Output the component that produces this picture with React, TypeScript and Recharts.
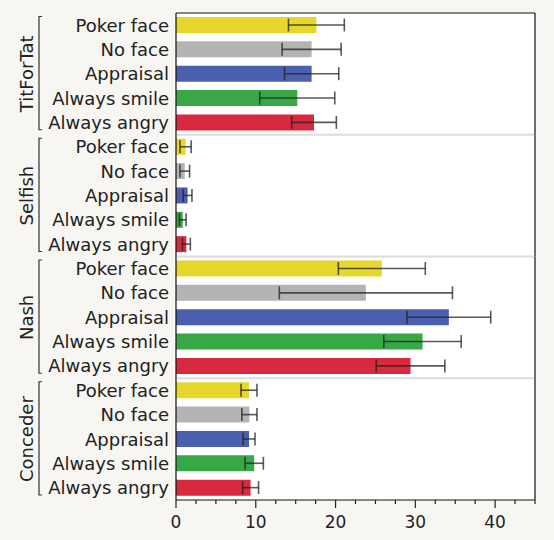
import React from 'react';
import { BarChart, Bar, XAxis, YAxis, ErrorBar, Cell, ReferenceArea, CartesianGrid } from 'recharts';

const FONT = '"DejaVu Sans", Verdana, sans-serif';

const groups = ['TitForTat', 'Selfish', 'Nash', 'Conceder'];
const conditions = ['Poker face', 'No face', 'Appraisal', 'Always smile', 'Always angry'];
const conditionColors = ['#e7d62b', '#b4b4b4', '#4a5fae', '#37a845', '#d9293f'];

// mean values and error (half-width) per group, in condition order
const titForTatMeans = [17.6, 17.0, 17.0, 15.2, 17.3];
const titForTatErrs = [3.5, 3.7, 3.4, 4.7, 2.8];
const selfishMeans = [1.2, 1.1, 1.45, 0.85, 1.3];
const selfishErrs = [0.7, 0.6, 0.55, 0.42, 0.5];
const nashMeans = [25.8, 23.8, 34.2, 30.9, 29.4];
const nashErrs = [5.45, 10.85, 5.25, 4.85, 4.3];
const concederMeans = [9.15, 9.2, 9.15, 9.8, 9.35];
const concederErrs = [1.0, 0.95, 0.75, 1.15, 1.0];

const xTicks = [0, 2.5, 5, 7.5, 10, 12.5, 15, 17.5, 20, 22.5, 25, 27.5, 30, 32.5, 35, 37.5, 40, 42.5, 45];

const means = [titForTatMeans, selfishMeans, nashMeans, concederMeans];
const errs = [titForTatErrs, selfishErrs, nashErrs, concederErrs];

const rows = groups.flatMap((g, gi) =>
  conditions.map((c, ci) => ({
    key: `${g}|${c}`,
    value: means[gi][ci],
    err: errs[gi][ci],
    color: conditionColors[ci],
  }))
);

const XTick = ({ x, y, payload }: any) => {
  const major = payload.value % 10 === 0;
  return (
    <g>
      <line x1={x} x2={x} y1={y} y2={y + (major ? 8 : 4)} stroke="#222" strokeWidth={1.2} />
      {major && (
        <text x={x} y={y + 22} textAnchor="middle" dominantBaseline="central" fontFamily={FONT} fontSize={17} fill="#222">
          {payload.value}
        </text>
      )}
    </g>
  );
};

const makePanel = (group: string, index: number) => (p: any) => {
  const { x, y, width, height } = p;
  const bx = x - 137;
  const lx = x - 150;
  return (
    <g>
      {index === 0 && <line x1={x} x2={x + width} y1={y} y2={y} stroke="#111" strokeWidth={1.2} />}
      {index < groups.length - 1 && (
        <line x1={x + 1} x2={x + width - 1} y1={y + height} y2={y + height} stroke="#dcdcdc" strokeWidth={2} />
      )}
      <line x1={x + width} x2={x + width} y1={y} y2={y + height} stroke="#111" strokeWidth={1.2} />
      <path
        d={`M${bx + 3},${y + 3.5} H${bx} V${y + height - 5} H${bx + 3}`}
        fill="none"
        stroke="#333"
        strokeWidth={1.2}
      />
      <text
        transform={`translate(${lx},${y + height / 2}) rotate(-90)`}
        textAnchor="middle"
        dominantBaseline="central"
        fontFamily={FONT}
        fontSize={18}
        fill="#222"
      >
        {group}
      </text>
    </g>
  );
};

export default function App() {
  React.useEffect(() => {
    document.body.style.background = '#f7f6f2';
  }, []);

  return (
    <div style={{ width: 546, height: 532, background: '#f7f6f2' }}>
      <BarChart
        width={546}
        height={532}
        data={rows}
        layout="vertical"
        margin={{ top: 5, right: 19, bottom: 0, left: 0 }}
      >
        <CartesianGrid fill="#ffffff" horizontal={false} vertical={false} stroke="none" />
        <XAxis
          type="number"
          domain={[0, 45]}
          ticks={xTicks}
          interval={0}
          height={40}
          tickSize={0}
          tickMargin={0}
          tickLine={false}
          axisLine={{ stroke: '#111', strokeWidth: 1.2 }}
          tick={<XTick />}
        />
        <YAxis
          type="category"
          dataKey="key"
          width={168}
          interval={0}
          tickSize={0}
          tickMargin={7}
          tickLine={false}
          axisLine={{ stroke: '#111', strokeWidth: 1.2 }}
          tickFormatter={(k: string) => k.split('|')[1]}
          tick={{ fontSize: 18, fill: '#222', fontFamily: FONT }}
        />
        {groups.map((g, i) => (
          <ReferenceArea
            key={g}
            y1={`${g}|${conditions[0]}`}
            y2={`${g}|${conditions[conditions.length - 1]}`}
            fill="none"
            ifOverflow="visible"
            shape={makePanel(g, i)}
          />
        ))}
        <Bar dataKey="value" barSize={16} isAnimationActive={false}>
          {rows.map((r) => (
            <Cell key={r.key} fill={r.color} />
          ))}
          <ErrorBar
            dataKey="err"
            direction="x"
            width={6.5}
            stroke="#222"
            strokeOpacity={0.75}
            strokeWidth={1.6}
            isAnimationActive={false}
          />
        </Bar>
      </BarChart>
    </div>
  );
}
